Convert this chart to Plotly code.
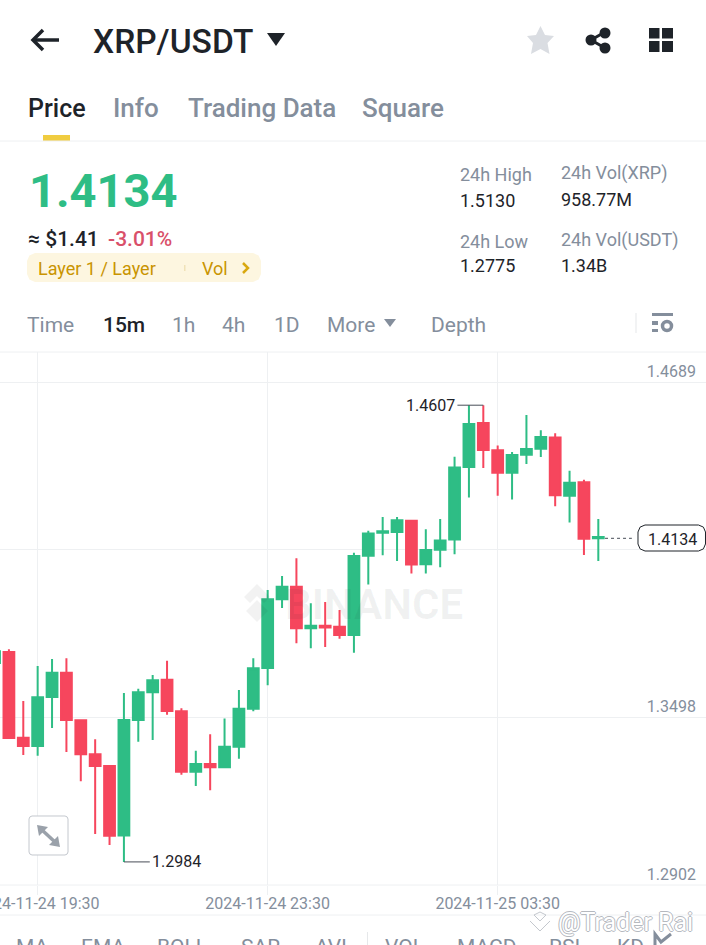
import pandas as pd
import plotly.graph_objects as go

### data
times = pd.date_range("2024-11-24 18:45", periods=43, freq="15min")
opens = [1.3691, 1.3730, 1.3425, 1.3396, 1.3570, 1.3656, 1.3487, 1.3367, 1.3325, 1.3078, 1.3488,
         1.3587, 1.3631, 1.3519, 1.3304, 1.3332, 1.3320, 1.3393, 1.3528, 1.3673, 1.3917, 1.3962,
         1.3814, 1.3823, 1.3820, 1.3790, 1.4072, 1.4154, 1.4156, 1.4196, 1.4042, 1.4093, 1.4130,
         1.4387, 1.4544, 1.4447, 1.4367, 1.4431, 1.4452, 1.4492, 1.4285, 1.4333, 1.4134]
highs = [1.3735, 1.3740, 1.3556, 1.3680, 1.3705, 1.3708, 1.3488, 1.3420, 1.3327, 1.3584, 1.3599,
         1.3648, 1.3699, 1.3530, 1.3379, 1.3438, 1.3494, 1.3595, 1.3708, 1.3950, 1.4000, 1.4063,
         1.3903, 1.3908, 1.3879, 1.4083, 1.4161, 1.4210, 1.4210, 1.4198, 1.4166, 1.4203, 1.4424,
         1.4607, 1.4607, 1.4464, 1.4441, 1.4572, 1.4518, 1.4507, 1.4374, 1.4342, 1.4203]
lows = [1.3640, 1.3424, 1.3364, 1.3361, 1.3460, 1.3375, 1.3271, 1.3083, 1.3044, 1.2984, 1.3411,
        1.3417, 1.3507, 1.3294, 1.3254, 1.3239, 1.3318, 1.3351, 1.3519, 1.3612, 1.3886, 1.3761,
        1.3743, 1.3748, 1.3777, 1.3727, 1.3970, 1.4074, 1.4053, 1.4009, 1.4009, 1.4031, 1.4077,
        1.4279, 1.4384, 1.4285, 1.4272, 1.4398, 1.4423, 1.4248, 1.4190, 1.4075, 1.4053]
closes = [1.3733, 1.3424, 1.3396, 1.3569, 1.3656, 1.3488, 1.3367, 1.3325, 1.3077, 1.3488, 1.3587,
          1.3630, 1.3520, 1.3304, 1.3332, 1.3320, 1.3393, 1.3528, 1.3672, 1.3917, 1.3962, 1.3814,
          1.3823, 1.3817, 1.3790, 1.4071, 1.4151, 1.4159, 1.4198, 1.4041, 1.4092, 1.4126, 1.4386,
          1.4540, 1.4448, 1.4367, 1.4430, 1.4451, 1.4494, 1.4287, 1.4331, 1.4132, 1.4139]

price_ticks = [1.4689, 1.4093, 1.3498, 1.2902]
price_labels = ["1.4689", "", "1.3498", "1.2902"]
time_ticks = ["2024-11-24 19:30", "2024-11-24 23:30", "2024-11-25 03:30"]
time_labels = ["", "2024-11-24 23:30", "2024-11-25 03:30"]

W, H = 706, 945
GREEN, RED = "#2ebd85", "#f6465d"
DARK, GRAY = "#1e2329", "#848e9c"
FONT = "Roboto"


def px(x):
    return x / W


def py(y):
    return 1 - y / H


fig = go.Figure(go.Candlestick(
    x=times, open=opens, high=highs, low=lows, close=closes,
    increasing=dict(line=dict(color=GREEN, width=2), fillcolor=GREEN),
    decreasing=dict(line=dict(color=RED, width=2), fillcolor=RED),
    whiskerwidth=0, showlegend=False,
))

fig.update_layout(
    width=W, height=H, margin=dict(l=0, r=0, t=0, b=0),
    paper_bgcolor="white", plot_bgcolor="white", showlegend=False,
    boxgap=0.25, boxgroupgap=0,
    font=dict(family=FONT, color=GRAY),
    xaxis=dict(
        domain=[0, 1], range=["2024-11-24 18:50:42", "2024-11-25 07:07:22"],
        rangeslider=dict(visible=False),
        tickmode="array", tickvals=time_ticks, ticktext=time_labels, tickfont=dict(size=16, color=GRAY),
        ticklabelstandoff=-5,
        showgrid=True, gridcolor="#eef0f2", gridwidth=1, zeroline=False,
        ticks="outside", ticklen=9, tickcolor="#eef0f2", tickwidth=1,
    ),
    yaxis=dict(
        domain=[py(885), py(352)], range=[1.2902, 1.4796], side="right",
        tickmode="array", tickvals=price_ticks, ticktext=price_labels,
        ticklabelposition="inside", ticklabelshift=-11, ticklabelstandoff=7, ticklabeloverflow="allow",
        tickfont=dict(size=16, color=GRAY),
        showgrid=True, gridcolor="#eef0f2", gridwidth=1, zeroline=False, ticks="",
    ),
)

shapes = []
notes = []


def text(x, y, s, size, color=GRAY, weight=400, anchor="left", **kw):
    notes.append(dict(
        xref="paper", yref="paper", x=px(x - 1 if anchor == "left" else x), y=py(y), text=s, showarrow=False,
        xanchor=anchor, yanchor="middle", borderpad=0, align="left",
        font=dict(family=FONT, size=size, color=color, weight=weight, **kw),
    ))


def path(d, fill=None, line=None, lw=0):
    # d is a list of (cmd, x, y) in page pixels
    s = ""
    for cmd, x, y in d:
        s += f"{cmd}{px(x):.5f},{py(y):.5f} "
    shapes.append(dict(
        type="path", xref="paper", yref="paper", path=s.strip(),
        fillcolor=fill or "rgba(0,0,0,0)", line=dict(color=line or "rgba(0,0,0,0)", width=lw),
    ))


def rect(x0, y0, x1, y1, fill=None, line=None, lw=0):
    shapes.append(dict(
        type="rect", xref="paper", yref="paper", x0=px(x0), x1=px(x1), y0=py(y0), y1=py(y1),
        fillcolor=fill or "rgba(0,0,0,0)", line=dict(color=line or "rgba(0,0,0,0)", width=lw),
    ))


def hline(x0, x1, y, color="#eef0f2", lw=1, dash="solid"):
    shapes.append(dict(
        type="line", xref="paper", yref="paper", x0=px(x0), x1=px(x1), y0=py(y), y1=py(y),
        line=dict(color=color, width=lw, dash=dash),
    ))


def circle(cx, cy, r, fill=None, line=None, lw=0):
    shapes.append(dict(
        type="circle", xref="paper", yref="paper", x0=px(cx - r), x1=px(cx + r), y0=py(cy - r), y1=py(cy + r),
        fillcolor=fill or "rgba(0,0,0,0)", line=dict(color=line or "rgba(0,0,0,0)", width=lw),
    ))


def round_rect(x0, y0, x1, y1, r, fill=None, line=None, lw=0):
    # rounded corners with short cut segments
    c = r * 0.3
    d = [("M", x0 + r, y0), ("L", x1 - r, y0), ("L", x1 - c, y0 + c), ("L", x1, y0 + r),
         ("L", x1, y1 - r), ("L", x1 - c, y1 - c), ("L", x1 - r, y1), ("L", x0 + r, y1),
         ("L", x0 + c, y1 - c), ("L", x0, y1 - r), ("L", x0, y0 + r), ("L", x0 + c, y0 + c)]
    s = " ".join(f"{k}{px(x):.5f},{py(y):.5f}" for k, x, y in d) + " Z"
    shapes.append(dict(
        type="path", xref="paper", yref="paper", path=s,
        fillcolor=fill or "rgba(0,0,0,0)", line=dict(color=line or "rgba(0,0,0,0)", width=lw),
    ))


# header
path([("M", 59, 40), ("L", 33, 40)], line=DARK, lw=3.5)
path([("M", 43, 30), ("L", 33, 40), ("L", 43, 50)], line=DARK, lw=3.5)
text(93, 41, "XRP/USDT", 33.5, DARK, 500)
path([("M", 267, 33), ("L", 285, 33), ("L", 276, 46), ("Z", 267, 33)], fill=DARK)
# star
path([("M", 540.5, 26), ("L", 545, 35), ("L", 554, 36), ("L", 547.5, 43), ("L", 549.5, 54), ("L", 540.5, 49),
      ("L", 531, 54), ("L", 533, 43), ("L", 527, 36), ("L", 536, 35), ("Z", 540.5, 26)], fill="#dadde2")
# share
path([("M", 605, 32), ("L", 591, 40), ("L", 605, 48)], line=DARK, lw=3)
circle(605, 33, 5.5, fill=DARK)
circle(591, 40, 5.5, fill=DARK)
circle(605, 48, 5.5, fill=DARK)
# grid icon
rect(649, 28, 659.5, 38.5, fill=DARK)
rect(662, 28, 673, 38.5, fill=DARK)
rect(649, 41, 659.5, 52, fill=DARK)
rect(662, 41, 673, 52, fill=DARK)

# tabs
text(28, 108, "Price", 25, DARK, 500)
text(113, 108, "Info", 26, GRAY, 500)
text(188, 108, "Trading Data", 26, GRAY, 500)
text(362, 108, "Square", 26, GRAY, 500)
rect(43, 135, 70, 141, fill="#f0cc40")
hline(0, W, 141)

# price block
text(29, 190, "1.4134", 47, GREEN, 700)
text(28, 239, "≈ $1.41", 21, DARK, 500)
text(108, 239, "-3.01%", 21, "#d9506a", 500)
round_rect(27, 253, 261, 282, 8, fill="#fdf6e0")
text(38, 268, "Layer 1 / Layer", 18, "#c99400")
rect(184, 265, 185.5, 271, fill="#f0e2b8")
text(202, 268, "Vol", 18, "#c99400")
path([("M", 243, 263), ("L", 248, 268), ("L", 243, 273)], line="#d9a80f", lw=2.5)

# 24h stats
text(460, 174, "24h High", 18)
text(460, 200, "1.5130", 18, DARK)
text(460, 241, "24h Low", 18)
text(460, 266, "1.2775", 18, DARK)
text(561, 173, "24h Vol(XRP)", 18)
text(561, 199, "958.77M", 18, DARK)
text(561, 240, "24h Vol(USDT)", 18)
text(561, 266, "1.34B", 18, DARK)

# interval row
text(27, 325, "Time", 21)
text(103, 325, "15m", 21, DARK, 500)
text(172, 325, "1h", 21)
text(222, 325, "4h", 21)
text(274, 325, "1D", 21)
text(327, 325, "More", 21)
path([("M", 384, 319), ("L", 396, 319), ("L", 390, 327), ("Z", 384, 319)], fill=GRAY)
text(431, 325, "Depth", 21)
rect(635.5, 313, 636.5, 333, fill="#e6e8ea")
rect(652, 313, 673, 316, fill=GRAY)
rect(652, 321, 658, 325, fill=GRAY)
rect(652, 329, 658, 332, fill=GRAY)
circle(667, 326, 4.5, line=GRAY, lw=3.5)
hline(0, W, 352)
hline(0, W, 885)
hline(0, W, 915)

# watermark
path([("M", 257, 584), ("L", 270, 597), ("L", 264, 603), ("L", 257, 596), ("L", 250, 603), ("L", 244, 597),
      ("Z", 257, 584)], fill="rgba(30,35,41,0.06)")
path([("M", 257, 600), ("L", 268, 611), ("L", 257, 622), ("L", 246, 611), ("Z", 257, 600)], fill="rgba(30,35,41,0.06)")
text(285, 604, "BINANCE", 42, "rgba(30,35,41,0.06)", 700)

# first time label runs off the left edge, the axis would hide it
notes.append(dict(xref="x", yref="paper", x=time_ticks[0], y=py(903), text=time_ticks[0], showarrow=False,
                  xanchor="center", yanchor="middle", font=dict(family=FONT, size=16, color=GRAY)))

# high / low leaders
shapes.append(dict(type="line", xref="x", yref="y", x0="2024-11-25 03:15", x1="2024-11-25 02:48", y0=1.4607, y1=1.4607,
                   line=dict(color="#474d57", width=1)))
shapes.append(dict(type="line", xref="x", yref="y", x0="2024-11-24 21:00", x1="2024-11-24 21:27", y0=1.2984, y1=1.2984,
                   line=dict(color="#474d57", width=1)))
notes.append(dict(xref="x", yref="y", x="2024-11-25 02:48", y=1.4607, text="1.4607", showarrow=False, xanchor="right",
                  yanchor="middle", font=dict(family=FONT, size=16, color=DARK)))
notes.append(dict(xref="x", yref="y", x="2024-11-24 21:27", y=1.2984, text="1.2984", showarrow=False, xanchor="left",
                  yanchor="middle", font=dict(family=FONT, size=16, color=DARK)))

# current price tag
shapes.append(dict(type="line", xref="x", yref="y", x0="2024-11-25 05:22", x1="2024-11-25 05:50", y0=1.4134, y1=1.4134,
                   line=dict(color="#474d57", width=1, dash="3px,3px")))
round_rect(638, 525, 705.5, 551, 7, fill="white", line=DARK, lw=1)
text(672, 539, "1.4134", 16, DARK, anchor="center")

# expand button
round_rect(29, 816, 68, 855, 3, fill="white", line="#c4c8ce", lw=1)
path([("M", 37, 825), ("L", 48, 827), ("L", 39, 836), ("Z", 37, 825)], fill="#9aa1aa")
path([("M", 60, 847), ("L", 49, 845), ("L", 58, 836), ("Z", 60, 847)], fill="#9aa1aa")
path([("M", 42, 830), ("L", 55, 842)], line="#9aa1aa", lw=3.5)

# indicator row, cut off by the bottom edge
for label, x in [("MA", 16), ("EMA", 81), ("BOLL", 157), ("SAR", 241), ("AVL", 315),
                 ("VOL", 385), ("MACD", 457), ("RSI", 549), ("KD", 617)]:
    text(x, 947, label, 21)
rect(367, 932, 368, 945, fill="#e6e8ea")
path([("M", 655, 945), ("L", 655, 934), ("L", 661, 942), ("L", 671, 934)], line=GRAY, lw=3)

# user tag over the image
text(558, 922, "@Trader Rai", 25, "white", shadow="1px 0 #b5b9bf, -1px 0 #b5b9bf, 0 1px #b5b9bf, 0 -1px #b5b9bf")
path([("M", 530, 921), ("L", 540, 931), ("L", 550, 921)], line="#c4c8ce", lw=1)
path([("M", 534, 915), ("L", 540, 921), ("L", 546, 915), ("L", 540, 912), ("Z", 534, 915)], line="#c4c8ce", lw=1)

fig.update_layout(shapes=shapes, annotations=notes)

fig.write_html("out.html", config=dict(displayModeBar=False), post_script="document.body.style.margin='0';")
